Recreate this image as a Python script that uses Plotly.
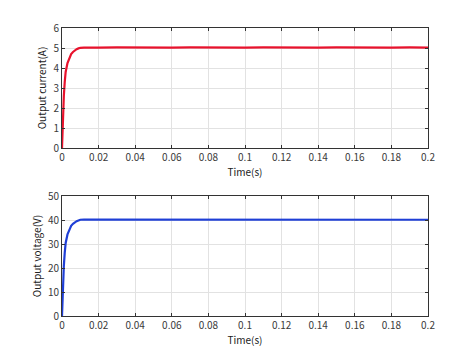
import plotly.graph_objects as go

# time base (s)
time_s = [0, 0.0002, 0.0004, 0.0007, 0.001, 0.0015, 0.002, 0.003, 0.004, 0.005,
          0.006, 0.007, 0.008, 0.009, 0.010, 0.012, 0.015, 0.02, 0.03, 0.04,
          0.05, 0.06, 0.07, 0.08, 0.09, 0.10, 0.11, 0.12, 0.13, 0.14,
          0.15, 0.16, 0.17, 0.18, 0.19, 0.20]
current_a = [0, 0.7, 1.3, 2.0, 2.6, 3.3, 3.8, 4.25, 4.5, 4.7,
             4.8, 4.88, 4.94, 4.98, 5.01, 5.02, 5.03, 5.02, 5.03, 5.02,
             5.03, 5.02, 5.03, 5.02, 5.03, 5.02, 5.03, 5.02, 5.03, 5.02,
             5.03, 5.02, 5.03, 5.02, 5.03, 5.02]
voltage_v = [0, 5.6, 10.4, 16.0, 20.8, 26.4, 30.4, 34.0, 36.0, 37.6,
             38.4, 39.0, 39.5, 39.8, 40.1, 40.2, 40.2, 40.1, 40.2, 40.1,
             40.2, 40.1, 40.2, 40.1, 40.2, 40.1, 40.2, 40.1, 40.2, 40.1,
             40.2, 40.1, 40.2, 40.1, 40.2, 40.1]

x_ticks = [0, 0.02, 0.04, 0.06, 0.08, 0.1, 0.12, 0.14, 0.16, 0.18, 0.2]
x_tick_labels = ["0", "0.02", "0.04", "0.06", "0.08", "0.1", "0.12", "0.14", "0.16", "0.18", "0.2"]

FONT = "Noto Sans CJK JP"
W, H = 474, 355
OFF = 8  # page body margin offset

fig = go.Figure()
fig.add_trace(go.Scatter(x=time_s, y=current_a, mode="lines",
                         line=dict(color="#e8122c", width=2.2), xaxis="x", yaxis="y"))
fig.add_trace(go.Scatter(x=time_s, y=voltage_v, mode="lines",
                         line=dict(color="#1f3fd6", width=2.2), xaxis="x2", yaxis="y2"))

axis_common = dict(showline=True, linecolor="#333333", linewidth=1, mirror="allticks",
                   ticks="inside", ticklen=3, tickcolor="#333333", automargin=False,
                   showgrid=True, gridcolor="#e2e2e2", gridwidth=1, zeroline=False,
                   tickfont=dict(family=FONT, size=10, color="#3a3a3a"))

tfont = dict(family=FONT, size=10, color="#222222")
xdom = [(62 - OFF) / W, (428 - OFF) / W]
fig.update_layout(
    width=W, height=H, showlegend=False,
    margin=dict(l=0, r=0, t=0, b=0, autoexpand=False),
    paper_bgcolor="white", plot_bgcolor="white",
    font=dict(family=FONT, size=10, color="#222222"),
    xaxis=dict(domain=xdom, anchor="y", range=[0, 0.2],
               tickvals=x_ticks, ticktext=x_tick_labels,
               title=dict(text="Time(s)", standoff=1, font=tfont),
               **axis_common),
    yaxis=dict(domain=[1 - (148 - OFF) / H, 1 - (28 - OFF) / H], anchor="x", range=[0, 6], dtick=1,
               title=dict(text="Output current(A)", standoff=4, font=tfont),
               **axis_common),
    xaxis2=dict(domain=xdom, anchor="y2", range=[0, 0.2],
                tickvals=x_ticks, ticktext=x_tick_labels,
                title=dict(text="Time(s)", standoff=1, font=tfont),
                **axis_common),
    yaxis2=dict(domain=[1 - (316 - OFF) / H, 1 - (196 - OFF) / H], anchor="x2", range=[0, 50], dtick=10,
                title=dict(text="Output voltage(V)", standoff=4, font=tfont),
                **axis_common),
)

fig.write_html("out.html")
